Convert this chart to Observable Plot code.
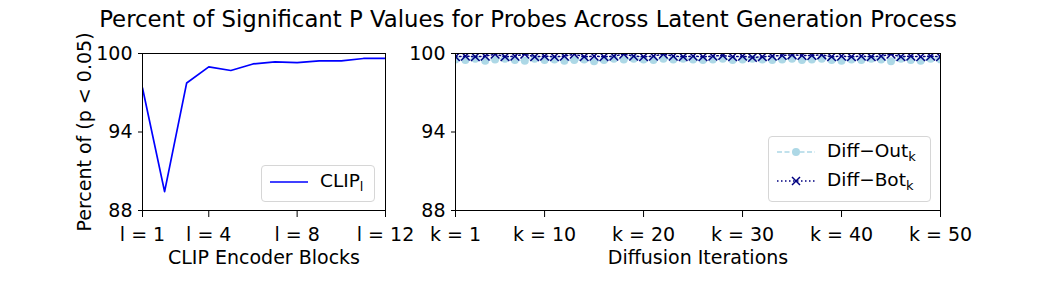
<!DOCTYPE html>
<html>
<head>
<meta charset="utf-8">
<script src="https://cdn.jsdelivr.net/npm/d3@7"></script>
<script src="https://cdn.jsdelivr.net/npm/@observablehq/plot@0.6"></script>
<style>
  html, body { margin: 0; padding: 0; background: #fff; }
  #wrap { position: relative; width: 1046px; height: 294px; overflow: hidden; font-family: "DejaVu Sans", sans-serif; }
  #wrap svg { position: absolute; top: 0; overflow: visible; }
  #title { position: absolute; top: 6px; left: 0; width: 1056px; text-align: center; font-size: 22.8px; color: #000; white-space: nowrap; }
  .legend { position: absolute; background: rgba(255,255,255,0.8); border: 1px solid #d6d6d6; border-radius: 4px; font-size: 18.5px; color: #000; }
  .legend .row { position: absolute; white-space: nowrap; }
  .legend svg { position: static !important; vertical-align: middle; }
  sub { font-size: 13px; vertical-align: -4px; }
</style>
</head>
<body>
<div id="wrap">
  <div id="title">Percent of Significant P Values for Probes Across Latent Generation Process</div>
</div>
<script>
// ---- data ----
const clipBlocks = [1,2,3,4,5,6,7,8,9,10,11,12];
const clipValues = [97.37,89.44,97.75,98.98,98.7,99.2,99.36,99.3,99.44,99.44,99.62,99.62];
const clipTicks = [1,4,8,12];

const diffIters = d3.range(1, 51);
const diffOut = [99.55,99.5,99.6,99.45,99.55,99.6,99.5,99.45,99.6,99.5,
                 99.55,99.45,99.5,99.55,99.4,99.5,99.6,99.55,99.6,99.55,
                 99.5,99.6,99.55,99.6,99.55,99.5,99.55,99.6,99.5,99.55,
                 99.6,99.55,99.5,99.55,99.6,99.5,99.55,99.6,99.5,99.45,
                 99.55,99.5,99.6,99.55,99.4,99.6,99.5,99.45,99.6,99.55];
const diffBot = [99.75,99.8,99.75,99.8,99.95,99.75,99.8,99.95,99.75,99.8,
                 99.75,99.8,99.95,99.75,99.8,99.75,99.8,99.95,99.8,99.75,
                 99.8,99.95,99.8,99.75,99.8,99.75,99.8,99.85,99.75,99.8,
                 99.7,99.75,99.8,99.85,99.9,99.85,99.85,99.9,99.75,99.8,
                 99.75,99.8,99.75,99.8,99.95,99.75,99.8,99.75,99.8,99.75];
const diffTicks = [1,10,20,30,40,50];
const yTicks = [88,94,100];

const clipData = clipBlocks.map((b,i) => ({x: b, y: clipValues[i]}));
const outData = diffIters.map((k,i) => ({x: k, y: diffOut[i]}));
const botData = diffIters.map((k,i) => ({x: k, y: diffBot[i]}));

const wrap = document.getElementById("wrap");
const font = "DejaVu Sans, sans-serif";
const fs = 19;

const left = Plot.plot({
  width: 420, height: 294,
  marginLeft: 142, marginRight: 35, marginTop: 53, marginBottom: 84,
  style: {fontFamily: font, fontSize: fs + "px", color: "#000", background: "transparent"},
  x: {domain: [1,12], label: null},
  y: {domain: [88,100], label: null},
  marks: [
    Plot.axisX({ticks: clipTicks, tickFormat: d => "l = " + d, tickSize: 7, tickPadding: 10, fontSize: fs}),
    Plot.axisY({ticks: yTicks, tickSize: 4, tickPadding: 6, fontSize: fs}),
    Plot.line(clipData, {x: "x", y: "y", stroke: "blue", strokeWidth: 1.7, clip: true}),
    Plot.frame({stroke: "black", strokeWidth: 1}),
    Plot.text(["CLIP Encoder Blocks"], {frameAnchor: "bottom", dy: 53, fontSize: fs, text: d => d}),
    Plot.text(["Percent of (p < 0.05)"], {frameAnchor: "left", textAnchor: "middle", dx: -58, rotate: -90, fontSize: fs, text: d => d})
  ]
});
left.style.left = "0px";
wrap.appendChild(left);

const right = Plot.plot({
  width: 626, height: 294,
  marginLeft: 35, marginRight: 106, marginTop: 53, marginBottom: 84,
  style: {fontFamily: font, fontSize: fs + "px", color: "#000", background: "transparent"},
  x: {domain: [1,50], label: null},
  y: {domain: [88,100], label: null},
  marks: [
    Plot.axisX({ticks: diffTicks, tickFormat: d => "k = " + d, tickSize: 7, tickPadding: 10, fontSize: fs}),
    Plot.axisY({ticks: yTicks, tickSize: 4, tickPadding: 6, fontSize: fs}),
    Plot.line(outData, {x: "x", y: "y", stroke: "lightblue", strokeWidth: 1.5, strokeDasharray: "5,2.5", clip: true}),
    Plot.dot(outData, {x: "x", y: "y", fill: "lightblue", r: 4, clip: true}),
    Plot.line(botData, {x: "x", y: "y", stroke: "navy", strokeWidth: 1.5, strokeDasharray: "1.5,2.5", clip: true}),
    Plot.dot(botData, {x: "x", y: "y", symbol: "times", stroke: "navy", strokeWidth: 1.5, r: 4, clip: true}),
    Plot.frame({stroke: "black", strokeWidth: 1}),
    Plot.text(["Diffusion Iterations"], {frameAnchor: "bottom", dy: 53, fontSize: fs, text: d => d})
  ]
});
right.style.left = "420px";
wrap.appendChild(right);

// legends
function legend(left, top, w, h, rows) {
  const box = document.createElement("div");
  box.className = "legend";
  Object.assign(box.style, {left: left + "px", top: top + "px", width: w + "px", height: h + "px"});
  rows.forEach(r => {
    const row = document.createElement("div");
    row.className = "row";
    row.style.left = "8px";
    row.style.top = r.top + "px";
    row.innerHTML = r.swatch + `<span style="margin-left:12px">${r.label}</span>`;
    box.appendChild(row);
  });
  wrap.appendChild(box);
}
legend(261, 165, 112, 35, [
  {top: 4, label: "CLIP<sub>l</sub>",
   swatch: `<svg width="38" height="10"><line x1="0" x2="38" y1="5" y2="5" stroke="blue" stroke-width="1.7"/></svg>`}
]);
legend(768, 136, 161, 64, [
  {top: 3, label: "Diff\u2212Out<sub>k</sub>",
   swatch: `<svg width="38" height="10"><line x1="0" x2="38" y1="5" y2="5" stroke="lightblue" stroke-width="1.5" stroke-dasharray="5,2.5"/><circle cx="19" cy="5" r="4" fill="lightblue"/></svg>`},
  {top: 32, label: "Diff\u2212Bot<sub>k</sub>",
   swatch: `<svg width="38" height="10"><line x1="0" x2="38" y1="5" y2="5" stroke="navy" stroke-width="1.5" stroke-dasharray="1.5,2.5"/><path d="M15,1L23,9M23,1L15,9" stroke="navy" stroke-width="1.5"/></svg>`}
]);
</script>
</body>
</html>
